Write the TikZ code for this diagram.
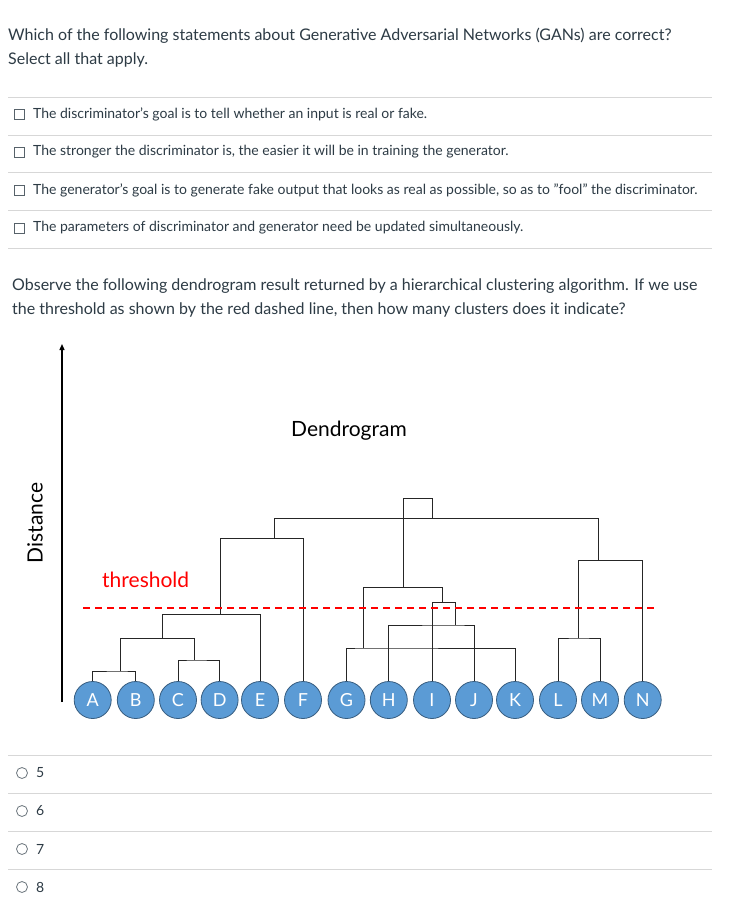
\documentclass[tikz,border=0pt]{standalone}
\usepackage{fontspec}
\setmainfont{Lato}
\usetikzlibrary{arrows.meta}
\definecolor{leafblue}{RGB}{91,155,213}
\definecolor{rulegrey}{RGB}{215,215,215}
\definecolor{txt}{RGB}{45,59,69}
\begin{document}
\begin{tikzpicture}[x=1pt,y=-1pt,
  q/.style={anchor=west,inner sep=0,font=\fontsize{16}{18}\selectfont,text=txt},
  opt/.style={anchor=west,inner sep=0,font=\fontsize{14}{15}\selectfont,text=txt},
  sep/.style={draw=rulegrey,line width=0.8pt},
  box/.style={draw=txt!80,line width=0.9pt,minimum size=10pt,inner sep=0},
  radio/.style={draw=txt!70,circle,line width=0.8pt,minimum size=11pt,inner sep=0},
  leaf/.style={circle,fill=leafblue,draw=leafblue!60!black,line width=0.8pt,minimum size=37pt,inner sep=0pt,text=white,font=\fontsize{18}{18}\selectfont},
  br/.style={line width=1pt,draw=black!85}]
\useasboundingbox (0,0) rectangle (738,912);
\fill[white] (0,0) rectangle (738,912);
\node[q] (t1) at (8,36) {Which of the following statements about Generative Adversarial Networks (GANs) are correct?};
\node[q] (t2) at (8,60) {Select all that apply.};
\foreach \y in {97,135,172,210,248} \draw[sep] (8,\y) -- (712,\y);
\node[box] (c1) at (19,114) {}; \node[opt] (o1) at (33,114) {The discriminator's goal is to tell whether an input is real or fake.};
\node[box] (c2) at (19,152) {}; \node[opt] (o2) at (33,152) {The stronger the discriminator is, the easier it will be in training the generator.};
\node[box] (c3) at (19,190) {}; \node[opt] (o3) at (33,190) {The generator's goal is to generate fake output that looks as real as possible, so as to "fool" the discriminator.};
\node[box] (c4) at (19,228) {}; \node[opt] (o4) at (33,228) {The parameters of discriminator and generator need be updated simultaneously.};
\node[q] (t3) at (12,286) {Observe the following dendrogram result returned by a hierarchical clustering algorithm. If we use};
\node[q] (t4) at (12,310) {the threshold as shown by the red dashed line, then how many clusters does it indicate?};
% axis
\coordinate (ax0) at (62,702); \coordinate (ax1) at (62,344);
\draw[line width=1.3pt,-{Triangle[length=6pt,width=5pt]}] (ax0) -- (ax1);
\node[rotate=90,font=\fontsize{21}{21}\selectfont] (dist) at (35,523) {Distance};
\node[font=\fontsize{21}{21}\selectfont] (dtitle) at (349,431) {Dendrogram};
\node[text=red,font=\fontsize{21}{21}\selectfont,anchor=west,inner sep=0] (thr) at (102,580) {threshold};
% leaves
\foreach \n/\x in {A/92.7,B/135.8,C/178,D/219.6,E/260,F/303,G/346.5,H/388.8,I/432,J/474,K/515,L/558,M/600,N/642.7}
  \node[leaf] (\n) at (\x,700) {\n};
% branches
\draw[br] (A.north) |- (120.4,671) -| (B.north);
\draw[br] (C.north) |- (194.6,660) -| (D.north);
\draw[br] (120.4,671) -- (120.4,638) -| (194.6,660);
\draw[br] (162,638) -- (162,614) -| (E.north);
\draw[br] (220.8,614) -- (220.8,538) -| (F.north);
\draw[br] (274,538) -- (274,518) -- (598.5,518);
\draw[br] (G.north) |- (363,648) -| (K.north);
\draw[br] (H.north) |- (455,625) -| (J.north);
\draw[br] (I.north) |- (455,602) -- (455,625);
\draw[br] (363,648) -- (363,587) -| (442.7,602);
\draw[br] (403.5,587) -- (403.5,498) -| (432,518);
\draw[br] (L.north) |- (578.5,638) -| (M.north);
\draw[br] (578.5,638) -- (578.5,560) -| (N.north);
\draw[br] (598.5,560) -- (598.5,518);
% threshold
\coordinate (th0) at (83,608); \coordinate (th1) at (657,608);
\draw[red,line width=1.6pt,dash pattern=on 7pt off 5pt] (th0) -- (th1);
% answers
\foreach \y in {755,793,831,869} \draw[sep] (8,\y) -- (712,\y);
\foreach \i/\y/\v in {1/773/5,2/811/6,3/849/7,4/887/8}{
  \node[radio] (r\i) at (22,\y) {};
  \node[opt] (a\i) at (36,\y) {\v};}
\end{tikzpicture}
\end{document}
